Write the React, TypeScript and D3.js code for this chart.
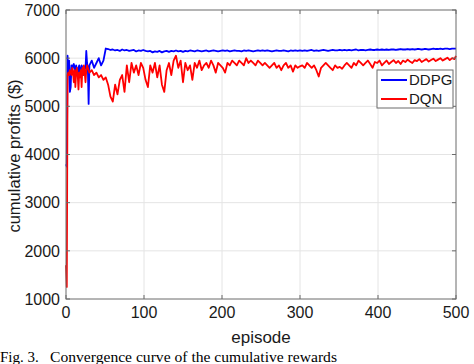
import * as d3 from 'd3';

// episodes: dense at the start, every 3rd episode afterwards
const EPISODES: number[] = [...d3.range(0, 30), ...d3.range(30, 500, 3), 500];

const DDPG: number[] = [
  3800, 3750, 6050, 5700, 5950, 5300, 5400, 5850, 5750, 5850,
  5880, 5800, 5700, 5850, 5750, 5650, 5800, 5850, 5700, 5750,
  5850, 5800, 5650, 5750, 5820, 5780, 6150, 5900, 5800, 5050,
  // 30 .. 48
  5850, 5950, 5800, 5900, 6000, 5850, 5950,
  // 51 .. 99
  6200, 6190, 6170, 6180, 6160, 6170, 6150, 6180, 6160, 6170, 6150, 6160, 6170, 6140, 6160, 6150, 6170,
  // 102 .. 150
  6150, 6140, 6150, 6120, 6140, 6130, 6150, 6120, 6140, 6150, 6130, 6150, 6140, 6160, 6140, 6150, 6130,
  // 153 .. 201
  6150, 6140, 6160, 6150, 6140, 6160, 6150, 6140, 6150, 6160, 6140, 6150, 6160, 6150, 6140, 6150, 6160,
  // 204 .. 252
  6150, 6160, 6140, 6150, 6160, 6150, 6150, 6140, 6160, 6150, 6160, 6150, 6140, 6150, 6160, 6150, 6160,
  // 255 .. 303
  6150, 6160, 6150, 6140, 6150, 6160, 6150, 6150, 6160, 6150, 6140, 6160, 6150, 6160, 6150, 6160, 6150,
  // 306 .. 354
  6160, 6150, 6160, 6170, 6150, 6160, 6150, 6160, 6170, 6160, 6150, 6160, 6170, 6160, 6160, 6170, 6160,
  // 357 .. 405
  6170, 6160, 6170, 6160, 6170, 6180, 6160, 6170, 6170, 6160, 6170, 6180, 6170, 6170, 6180, 6170, 6180,
  // 408 .. 456
  6170, 6180, 6170, 6180, 6180, 6170, 6180, 6190, 6180, 6180, 6190, 6180, 6190, 6180, 6190, 6190, 6180,
  // 459 .. 498, 500
  6190, 6190, 6180, 6190, 6200, 6190, 6190, 6200, 6190, 6200, 6200, 6190, 6200, 6200,
  6200,
];

const DQN: number[] = [
  1700, 1250, 5650, 5700, 5650, 5750, 5700, 5650, 5800, 5700,
  5500, 5750, 5400, 5700, 5800, 5650, 5350, 5700, 5600, 5750,
  5400, 5800, 5650, 5850, 5700, 5500, 5750, 5850, 5800, 5750,
  // 30 .. 48
  5700, 5750, 5650, 5700, 5600, 5650, 5550,
  // 51 .. 99
  5600, 5450, 5200, 5100, 5450, 5250, 5550, 5650, 5300, 5850, 5500, 5900, 5700, 5850, 5650, 5900, 5800,
  // 102 .. 150
  5550, 5400, 5850, 5700, 5900, 5600, 5850, 5450, 5300, 5750, 5900, 5650, 5950, 6050, 5800, 5950, 5500,
  // 153 .. 201
  5900, 5750, 5850, 5550, 5900, 5800, 5950, 5750, 5850, 5900, 5800, 5950, 5850, 5700, 5900, 5850, 5800,
  // 204 .. 252
  5700, 5900, 5850, 5950, 5900, 5850, 5950, 5900, 5850, 6000, 5900, 5950, 5900, 5850, 5950, 5900, 5850,
  // 255 .. 303
  5900, 5850, 5800, 5850, 5900, 5800, 5850, 5750, 5850, 5900, 5800, 5850, 5720, 5850, 5800, 5830, 5850,
  // 306 .. 354
  5800, 5900, 5850, 5800, 5850, 5750, 5620, 5800, 5850, 5900, 5850, 5800, 5750, 5850, 5800, 5820, 5780,
  // 357 .. 405
  5850, 5900, 5850, 5800, 5900, 5850, 5950, 5900, 5850, 5900, 5950, 5880, 5800, 5920, 5900, 5950, 5850,
  // 408 .. 456
  5900, 5950, 5880, 5920, 5960, 5900, 5940, 5880, 5950, 5920, 5970, 5930, 5900, 5960, 5940, 5980, 5920,
  // 459 .. 498, 500
  5950, 5980, 5930, 5960, 5990, 5940, 5970, 6000, 5950, 5980, 6010, 5960, 6000, 5980,
  6050,
];

const X_TICKS = [0, 100, 200, 300, 400, 500];
const Y_TICKS = [1000, 2000, 3000, 4000, 5000, 6000, 7000];

const SERIES = [
  { name: 'DDPG', values: DDPG, color: '#0000ff' },
  { name: 'DQN', values: DQN, color: '#ff0000' },
];

const W = 474, H = 364;
const L = 66, R = 456, T = 10, B = 299;
const SANS = '"Liberation Sans", Arial, Helvetica, sans-serif';
const SERIF = '"Liberation Serif", "Times New Roman", serif';

export default function App() {
  const x = d3.scaleLinear().domain([0, 500]).range([L, R]);
  const y = d3.scaleLinear().domain([1000, 7000]).range([B, T]);

  const line = (vals: number[]) =>
    d3.line<number>()
      .x((_, i) => x(EPISODES[i]))
      .y(d => y(d))(vals) || '';

  const axisColor = '#6b6b6b';
  const gridColor = '#e4e4e4';
  const tickLen = 4;

  return (
    <svg width={W} height={H} viewBox={`0 0 ${W} ${H}`}
      style={{ position: 'absolute', left: 0, top: 0, background: '#fff', display: 'block' }}>
      {/* grid */}
      {X_TICKS.slice(1, -1).map(t => (
        <line key={'gx' + t} x1={x(t)} x2={x(t)} y1={T} y2={B} stroke={gridColor} strokeWidth={1} />
      ))}
      {Y_TICKS.slice(1, -1).map(t => (
        <line key={'gy' + t} x1={L} x2={R} y1={y(t)} y2={y(t)} stroke={gridColor} strokeWidth={1} />
      ))}

      {/* data */}
      {SERIES.map(s => (
        <path key={s.name} d={line(s.values)} fill="none" stroke={s.color}
          strokeWidth={1.8} strokeLinejoin="round" />
      ))}

      {/* box and ticks */}
      <rect x={L} y={T} width={R - L} height={B - T} fill="none" stroke={axisColor} strokeWidth={1} />
      {X_TICKS.map(t => (
        <g key={'tx' + t}>
          <line x1={x(t)} x2={x(t)} y1={B} y2={B - tickLen} stroke={axisColor} />
          <line x1={x(t)} x2={x(t)} y1={T} y2={T + tickLen} stroke={axisColor} />
          <text x={x(t)} y={B + 19} textAnchor="middle" fontFamily={SANS} fontSize={16} fill="#1a1a1a">{t}</text>
        </g>
      ))}
      {Y_TICKS.map(t => (
        <g key={'ty' + t}>
          <line x1={L} x2={L + tickLen} y1={y(t)} y2={y(t)} stroke={axisColor} />
          <line x1={R} x2={R - tickLen} y1={y(t)} y2={y(t)} stroke={axisColor} />
          <text x={L - 6} y={y(t)} dy="0.36em" textAnchor="end" fontFamily={SANS} fontSize={16} fill="#1a1a1a">{t}</text>
        </g>
      ))}

      {/* axis labels */}
      <text x={(L + R) / 2} y={343} textAnchor="middle" fontFamily={SANS} fontSize={17} fill="#1a1a1a">episode</text>
      <text transform={`translate(20,156) rotate(-90)`} textAnchor="middle" fontFamily={SANS} fontSize={16.5} fill="#1a1a1a">
        cumulative profits ($)
      </text>

      {/* legend */}
      <rect x={377} y={70} width={76} height={38} fill="#fff" stroke={axisColor} strokeWidth={1} />
      {SERIES.map((s, i) => (
        <g key={'lg' + s.name}>
          <line x1={381} x2={407} y1={80 + i * 19} y2={80 + i * 19} stroke={s.color} strokeWidth={2} />
          <text x={409} y={80 + i * 19} dy="0.36em" fontFamily={SANS} fontSize={15} fill="#1a1a1a">{s.name}</text>
        </g>
      ))}

      {/* caption */}
      <text x={0} y={362} fontFamily={SERIF} fontSize={15} fill="#000">Fig. 3.</text>
      <text x={50} y={362} fontFamily={SERIF} fontSize={15.5} fill="#000"
        textLength={287} lengthAdjust="spacingAndGlyphs">
        Convergence curve of the cumulative rewards
      </text>
    </svg>
  );
}
